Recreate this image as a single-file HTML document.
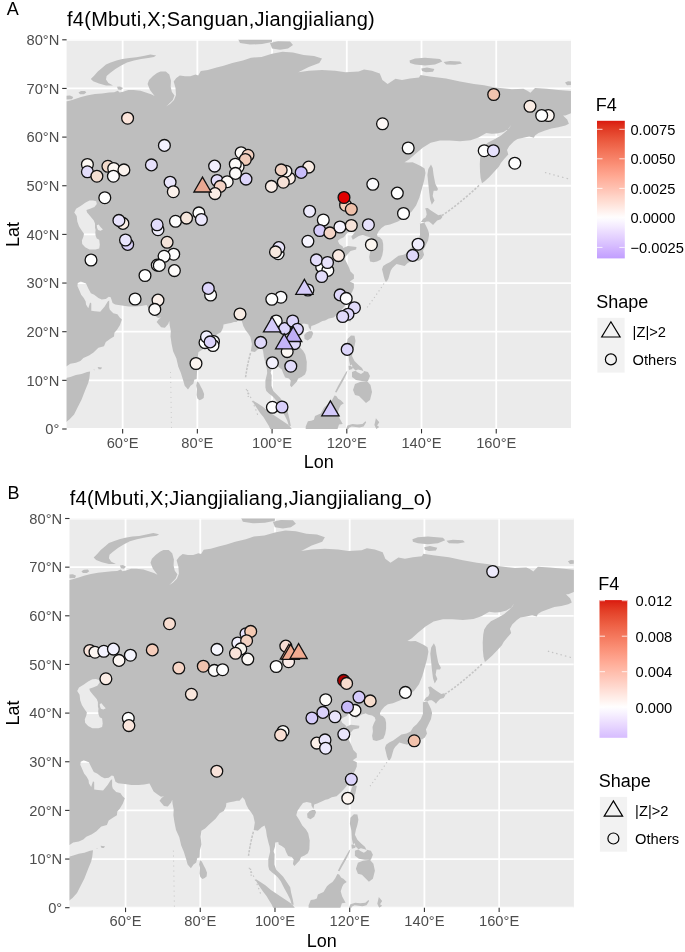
<!DOCTYPE html><html><head><meta charset="utf-8"><title>f4 maps</title><style>html,body{margin:0;padding:0;background:#fff;}svg{display:block;font-family:"Liberation Sans",Arial,Helvetica,sans-serif;}.tk{font-size:14.7px;fill:#4D4D4D;}.at{font-size:18px;fill:#000;}.tt{font-size:20px;fill:#000;letter-spacing:0.27px;}.lg{font-size:14.7px;fill:#000;}.lt{font-size:18px;fill:#000;}</style></head><body>
<svg width="685" height="952" viewBox="0 0 685 952">
<defs><clipPath id="clipA"><rect x="66.60" y="39.80" width="504.36" height="389.20"/></clipPath></defs>
<rect x="66.60" y="39.80" width="504.36" height="389.20" fill="#EBEBEB"/>
<g clip-path="url(#clipA)">
<line x1="122.64" y1="39.80" x2="122.64" y2="429.00" stroke="#fff" stroke-width="1.8"/>
<line x1="197.36" y1="39.80" x2="197.36" y2="429.00" stroke="#fff" stroke-width="1.8"/>
<line x1="272.08" y1="39.80" x2="272.08" y2="429.00" stroke="#fff" stroke-width="1.8"/>
<line x1="346.80" y1="39.80" x2="346.80" y2="429.00" stroke="#fff" stroke-width="1.8"/>
<line x1="421.52" y1="39.80" x2="421.52" y2="429.00" stroke="#fff" stroke-width="1.8"/>
<line x1="496.24" y1="39.80" x2="496.24" y2="429.00" stroke="#fff" stroke-width="1.8"/>
<line x1="66.60" y1="429.00" x2="570.96" y2="429.00" stroke="#fff" stroke-width="1.8"/>
<line x1="66.60" y1="380.35" x2="570.96" y2="380.35" stroke="#fff" stroke-width="1.8"/>
<line x1="66.60" y1="331.70" x2="570.96" y2="331.70" stroke="#fff" stroke-width="1.8"/>
<line x1="66.60" y1="283.05" x2="570.96" y2="283.05" stroke="#fff" stroke-width="1.8"/>
<line x1="66.60" y1="234.40" x2="570.96" y2="234.40" stroke="#fff" stroke-width="1.8"/>
<line x1="66.60" y1="185.75" x2="570.96" y2="185.75" stroke="#fff" stroke-width="1.8"/>
<line x1="66.60" y1="137.10" x2="570.96" y2="137.10" stroke="#fff" stroke-width="1.8"/>
<line x1="66.60" y1="88.45" x2="570.96" y2="88.45" stroke="#fff" stroke-width="1.8"/>
<line x1="66.60" y1="39.80" x2="570.96" y2="39.80" stroke="#fff" stroke-width="1.8"/>
<path transform="translate(66.60,39.80)" fill="#BEBEBE" fill-rule="evenodd" d="M-18.7,61.3 0.4,61.5 3.9,60.6 9.2,58.9 14.4,57.2 21.4,55.4 28.4,54.2 35.4,53.6 42.4,52.8 47.7,52.4 51.2,51.0 53.0,52.8 56.4,51.9 61.7,50.2 67.0,50.2 74.0,51.0 79.2,52.8 84.5,54.5 88.0,56.2 83.4,50.2 81.0,44.2 82.4,40.2 86.4,36.2 90.4,33.2 93.9,31.6 99.2,31.6 102.7,34.7 104.4,40.9 104.1,47.0 105.3,52.2 107.9,55.7 106.2,60.1 100.9,65.4 99.4,66.7 103.4,64.2 107.4,60.2 109.4,55.2 108.9,48.2 107.1,41.7 109.7,38.2 113.2,35.6 118.4,36.5 123.7,36.5 128.9,34.7 131.6,35.6 134.2,31.2 141.2,30.3 150.0,27.7 157.0,26.0 165.7,23.3 176.3,20.7 184.4,17.9 194.9,17.1 205.4,14.0 215.9,11.9 226.4,12.7 237.0,15.3 247.5,16.1 255.4,18.7 252.7,23.2 242.2,27.1 231.7,32.4 242.2,31.0 255.4,30.2 268.5,31.0 279.0,32.4 292.1,31.8 297.4,29.7 305.3,31.0 313.2,33.7 315.8,40.2 321.0,44.2 328.9,38.9 335.4,40.2 343.4,38.7 352.4,37.7 353.9,35.2 363.4,36.8 379.4,38.8 393.4,41.7 407.4,44.2 417.4,45.4 428.4,47.6 438.4,48.7 445.4,49.5 456.8,48.9 460.3,50.6 463.8,53.0 468.4,48.2 480.1,48.9 491.8,50.1 504.3,51.2 523.4,51.2 523.4,73.4 504.3,73.4 498.8,75.7 496.5,75.7 498.4,77.7 500.6,79.7 502.3,83.9 498.8,85.7 491.8,87.4 484.8,88.6 477.8,90.9 471.9,93.3 468.4,95.6 467.3,97.9 462.6,96.8 456.8,97.9 450.9,99.1 447.4,101.4 442.7,106.1 440.4,110.2 441.7,114.6 437.8,119.0 434.3,123.3 432.4,126.7 427.6,132.0 422.8,137.1 418.4,141.1 415.4,143.5 414.0,138.2 413.4,132.0 413.2,124.1 413.7,116.2 414.7,110.9 417.4,106.7 421.4,102.7 427.4,99.7 434.4,95.7 440.4,90.7 444.9,84.7 442.4,88.7 436.9,92.1 430.4,93.8 425.0,93.9 419.7,93.2 411.9,97.8 404.0,100.4 393.5,101.4 382.9,100.7 373.4,100.7 364.1,103.0 356.4,107.7 348.7,114.1 342.4,119.7 337.9,122.5 341.4,122.8 346.0,122.5 349.9,124.2 354.0,126.2 358.0,128.8 358.9,133.2 357.6,140.5 355.2,149.3 352.8,157.7 349.5,165.7 344.9,172.0 338.9,177.0 331.4,181.6 323.4,184.7 318.4,185.7 314.9,188.2 311.9,191.7 310.4,194.7 310.9,196.7 313.4,197.7 315.7,200.2 316.6,204.2 316.6,210.2 315.7,215.5 313.9,219.9 310.4,221.6 306.9,222.5 303.4,221.6 302.6,217.2 303.4,212.9 303.0,208.5 304.3,205.0 306.1,201.5 305.2,198.8 302.6,197.1 299.0,196.2 296.3,195.1 292.2,196.1 286.2,200.0 284.7,197.0 288.4,192.2 283.9,190.2 280.2,193.6 277.2,197.5 273.8,199.0 271.2,200.9 272.7,204.3 276.1,206.8 276.5,208.2 281.3,206.3 285.8,206.8 289.9,207.2 289.5,209.7 283.9,211.1 281.3,214.1 277.6,218.4 279.5,221.8 282.4,227.7 283.9,231.6 287.3,235.0 287.3,238.9 283.2,241.8 287.3,243.7 287.3,248.1 285.4,252.5 282.4,257.4 279.1,261.7 278.3,266.1 275.0,270.0 271.2,273.9 267.1,277.8 262.3,278.8 258.5,280.7 255.9,281.2 252.2,283.1 247.7,285.1 244.7,286.1 244.0,290.4 242.1,287.5 241.7,284.6 237.2,283.6 233.5,284.6 230.5,288.5 227.9,292.4 226.8,296.8 229.8,301.6 232.8,307.0 236.5,310.9 238.7,314.8 240.2,322.1 239.9,330.8 238.4,334.7 235.0,337.1 231.6,338.6 230.1,342.0 224.9,347.4 223.4,345.4 224.2,341.0 222.3,338.6 218.6,337.6 216.7,333.7 215.2,329.8 212.2,327.4 209.2,326.0 208.8,323.5 205.9,324.0 205.5,327.9 204.0,332.8 205.1,335.7 204.9,341.6 204.9,346.0 206.7,351.2 210.2,354.7 213.7,358.2 217.2,363.5 220.7,368.7 221.6,374.0 223.3,381.0 224.2,386.2 222.3,386.2 220.7,381.0 218.1,375.7 214.6,369.6 211.1,362.6 208.4,359.1 205.8,356.5 202.3,353.8 199.7,351.2 198.8,347.7 198.8,340.7 200.6,333.3 200.2,328.4 198.8,323.5 197.3,317.2 196.5,311.4 195.0,307.0 192.4,308.4 188.3,312.3 184.2,311.4 185.3,304.1 183.8,297.3 181.6,293.8 179.0,290.4 176.7,286.1 175.2,281.2 173.0,278.8 170.0,282.2 167.4,282.2 164.4,283.1 161.4,283.6 156.9,284.6 156.5,288.0 154.3,292.4 150.2,294.8 146.1,300.2 139.7,306.0 135.6,309.9 131.9,312.3 131.1,318.2 131.9,326.0 130.4,331.8 130.0,339.1 127.8,339.6 126.7,344.0 124.0,345.9 121.4,349.8 118.1,345.9 116.6,340.6 114.3,333.3 111.7,326.9 109.8,318.7 106.5,311.4 105.0,304.1 103.9,296.8 104.2,290.9 103.1,285.6 102.7,281.2 101.6,284.1 98.3,288.0 94.5,287.5 90.0,282.2 92.3,279.3 94.5,277.8 91.5,278.3 88.5,276.3 84.1,272.9 81.8,268.5 80.0,265.1 74.7,266.1 69.1,266.6 62.0,266.6 55.3,265.6 48.6,264.7 46.0,263.2 44.1,257.4 42.2,256.9 39.2,259.3 35.1,259.8 31.8,258.3 27.6,254.9 24.3,253.5 21.7,248.6 19.4,243.7 16.8,242.8 14.2,241.8 11.2,243.2 10.8,246.2 12.7,250.5 14.6,254.9 17.2,258.3 19.1,261.7 19.4,264.7 21.7,268.5 23.5,262.7 24.7,263.7 24.7,271.0 28.4,271.5 33.6,272.0 38.1,266.6 41.1,261.7 42.6,260.8 42.6,267.6 43.3,270.0 46.7,273.4 50.8,274.4 53.1,277.8 55.3,279.7 53.4,285.1 50.4,290.0 47.8,292.9 47.4,296.8 44.1,298.7 39.2,302.1 37.4,306.5 31.8,308.0 26.9,312.8 22.4,315.7 16.8,318.2 13.8,321.1 9.3,323.0 3.7,324.0 0.0,326.4 -3.7,327.9 -5.6,327.4 -6.7,333.3 -1.9,338.6 3.7,337.1 9.3,335.2 14.9,334.2 20.5,332.3 23.5,331.8 22.8,338.1 21.7,343.0 18.7,350.3 14.9,360.0 11.2,367.3 7.5,374.6 3.0,379.5 -1.9,383.4 -7.5,389.2 -11.2,394.1 -18.7,394.1 -18.7,61.3ZM7.7,172.6 9.5,169.0 14.4,165.9 18.6,162.9 22.9,160.8 26.4,160.6 29.6,161.4 30.2,164.1 27.8,167.2 23.5,169.0 19.8,170.2 20.5,172.6 23.5,176.3 27.2,180.6 28.4,183.6 28.4,187.9 29.0,190.3 28.7,192.7 29.0,195.8 30.2,198.8 32.6,200.0 33.2,204.9 32.6,208.6 29.0,209.8 22.9,209.8 18.6,207.4 15.6,204.3 15.3,200.7 16.8,197.0 17.4,194.0 15.6,191.5 12.5,186.7 10.7,181.8 10.1,176.3ZM30.2,185.4 32.0,184.8 33.9,187.3 36.3,189.7 33.9,190.9 31.4,190.3 30.5,187.9ZM89.6,15.8 83.8,14.6 76.8,16.1 69.8,17.5 62.8,18.1 55.8,19.3 49.9,20.8 44.1,22.8 39.4,24.6 34.8,28.6 31.2,31.6 27.7,35.6 24.2,39.1 26.6,41.5 32.4,43.8 39.4,45.6 46.4,45.6 41.8,43.2 39.4,39.7 40.0,36.2 43.5,33.3 48.8,29.2 54.6,25.7 60.4,22.8 67.4,20.8 74.5,19.3 81.5,18.1 87.3,17.3ZM50.4,47.0 53.4,46.6 56.4,48.2 54.4,50.2 51.4,49.7ZM11.9,52.7 14.4,51.2 18.4,51.1 19.7,52.7 17.4,54.4 13.4,54.5ZM-0.6,56.0 3.4,55.8 6.6,57.2 5.4,59.4 -0.6,59.7ZM171.4,-0.8 205.4,-0.8 205.4,2.2 195.4,4.2 183.4,4.8 173.4,3.2ZM203.4,3.2 211.4,1.4 223.4,1.7 226.4,5.2 221.4,8.7 213.4,10.0 205.4,8.7ZM342.9,20.7 348.4,18.7 358.4,17.9 373.4,19.2 375.7,21.7 368.4,24.7 358.4,25.8 348.4,24.7 343.4,23.2ZM377.0,22.2 383.4,21.3 393.4,21.7 395.4,23.7 388.4,25.0 379.4,24.7ZM354.7,28.7 360.4,27.6 367.8,29.2 366.4,32.0 359.4,32.4 355.4,31.2ZM498.4,42.7 501.4,41.4 504.4,41.7 504.4,45.2 500.4,45.5ZM364.4,124.7 361.7,129.1 360.8,135.2 361.7,144.0 362.6,152.8 363.5,159.8 365.2,165.0 367.9,160.6 366.1,156.3 367.0,151.0 370.5,151.0 371.4,149.3 368.7,144.0 367.0,135.2 366.1,128.2ZM358.6,168.4 361.2,168.1 363.6,170.1 367.1,172.5 371.8,175.4 374.7,174.8 375.8,177.1 374.1,179.5 370.6,180.6 367.7,183.6 366.5,185.3 364.8,183.6 362.4,181.8 360.1,181.8 357.2,183.0 354.2,183.6 353.1,184.2 354.2,182.4 356.6,178.9 358.9,177.7 360.1,174.8 359.5,171.3ZM354.4,182.2 357.4,182.2 359.5,186.3 361.5,190.4 362.6,194.5 361.5,200.6 358.5,206.8 356.4,210.9 357.5,214.9 355.4,219.0 352.3,221.1 349.3,220.6 345.2,221.1 341.1,223.1 338.0,226.2 333.9,225.2 329.9,224.1 327.8,226.2 325.8,228.2 324.2,230.7 323.0,234.7 321.8,239.0 320.2,241.8 318.7,241.6 317.4,237.7 316.4,233.4 315.4,229.4 316.6,226.2 319.6,224.1 323.7,222.1 327.8,219.0 331.9,216.0 337.0,214.9 341.1,212.9 343.7,208.8 347.2,205.7 351.3,200.6 353.4,195.5 353.4,190.4 353.4,186.3 353.4,183.3ZM283.9,266.1 287.3,267.6 285.8,274.9 283.6,282.2 280.9,279.3 280.6,274.9 282.1,270.0ZM245.5,291.4 246.6,293.8 244.7,298.2 241.0,300.7 238.0,299.2 237.6,295.3 240.2,292.4 242.8,291.4ZM280.9,299.2 284.4,295.7 287.9,296.0 288.9,301.2 287.9,306.2 286.4,311.2 285.4,316.2 287.9,321.2 291.9,325.2 295.4,328.2 297.4,332.2 294.4,334.2 290.4,332.2 286.4,328.2 283.4,325.2 282.4,320.2 281.9,312.2 280.4,305.2ZM281.9,326.2 285.4,324.7 285.9,329.2 282.4,330.2ZM285.4,332.2 291.4,329.7 297.4,331.2 301.4,332.2 303.4,336.2 301.4,341.2 295.4,341.2 289.4,340.2 285.4,337.2ZM288.4,344.2 293.4,342.2 300.4,341.2 303.9,345.2 305.4,352.2 303.4,360.2 299.4,363.2 295.4,359.2 292.4,356.2 288.4,355.2 286.4,350.2ZM268.4,352.2 271.4,346.2 275.4,339.2 279.4,332.2 280.9,330.7 279.9,334.2 276.4,341.2 272.4,348.2 269.9,352.7ZM239.1,394.1 239.1,386.8 241.3,381.4 244.7,380.9 247.3,380.0 248.4,376.1 254.0,373.6 257.4,367.8 260.0,365.4 263.0,363.4 265.6,360.0 267.9,355.6 269.7,356.1 271.6,359.0 274.2,360.5 277.2,363.4 274.2,365.4 272.7,368.3 271.2,372.7 272.7,378.0 276.1,384.3 272.4,384.8 270.9,389.2 270.5,394.1ZM186.5,360.8 190.9,363.5 196.2,367.0 201.4,371.4 206.7,374.9 211.9,378.4 217.2,381.9 222.4,385.4 225.9,390.2 226.0,396.5 204.0,396.5 204.0,390.2 202.3,386.2 199.7,381.9 197.0,377.5 193.5,373.1 190.0,367.9 186.5,362.6ZM278.7,394.1 279.5,389.2 280.9,385.8 285.8,384.3 290.7,384.8 295.9,384.3 298.9,381.4 299.6,382.4 297.0,386.8 292.9,387.7 285.1,386.8 282.1,388.2 282.1,394.1ZM309.3,378.5 312.7,382.4 310.5,385.8 312.7,387.3 309.7,389.2 307.8,385.3ZM130.4,341.5 132.3,343.0 134.5,347.4 136.0,350.3 137.5,354.2 137.1,358.1 135.2,359.5 133.0,360.5 130.8,358.6 130.0,355.1 130.4,349.3 129.6,345.9ZM31.0,327.2 35.5,327.7 34.4,329.4 32.1,329.4ZM26.9,329.6 28.0,329.8 27.6,330.6Z"/>
<path d="M442.0,215.5Q458.0,205.0 479.5,185.0" fill="none" stroke="#C4C4C4" stroke-width="1.6" stroke-dasharray="2.2,1.6"/>
<path d="M384.0,283.5Q375.0,297.0 366.0,309.0" fill="none" stroke="#C4C4C4" stroke-width="1.1" stroke-dasharray="1.2,2.8"/>
<path d="M545.0,172.5Q556.0,175.5 569.0,179.0" fill="none" stroke="#C4C4C4" stroke-width="1.2" stroke-dasharray="1.5,3"/>
<path d="M170.5,372.0Q171.0,395.0 171.5,428.0" fill="none" stroke="#C4C4C4" stroke-width="1.0" stroke-dasharray="1,4"/>
<path d="M250.5,353.0Q247.0,366.0 245.5,378.0" fill="none" stroke="#C4C4C4" stroke-width="1.5" stroke-dasharray="2.5,1.2"/>
<path d="M247.5,390.0Q248.0,393.0 248.3,397.0" fill="none" stroke="#C4C4C4" stroke-width="1.3" stroke-dasharray="1.5,1.5"/>
<path d="M246.0,389.0Q252.0,398.0 258.0,416.0" fill="none" stroke="#C4C4C4" stroke-width="1.1" stroke-dasharray="1.5,3"/>
<circle cx="87.4" cy="164.5" r="5.9" fill="#FDF9F3" stroke="#111" stroke-width="1.3"/>
<circle cx="87.4" cy="171.8" r="5.9" fill="#E3DDFA" stroke="#111" stroke-width="1.3"/>
<circle cx="96.9" cy="176.2" r="5.9" fill="#F3DED2" stroke="#111" stroke-width="1.3"/>
<circle cx="107.9" cy="166.3" r="5.9" fill="#F1D9CA" stroke="#111" stroke-width="1.3"/>
<circle cx="113.7" cy="168.5" r="5.9" fill="#FDF8F4" stroke="#111" stroke-width="1.3"/>
<circle cx="123.9" cy="169.9" r="5.9" fill="#FBF3EE" stroke="#111" stroke-width="1.3"/>
<circle cx="113.4" cy="176.2" r="5.9" fill="#FCFCFE" stroke="#111" stroke-width="1.3"/>
<circle cx="151.4" cy="164.9" r="5.9" fill="#E6E0FB" stroke="#111" stroke-width="1.3"/>
<circle cx="164.4" cy="145.4" r="5.9" fill="#F2F0FE" stroke="#111" stroke-width="1.3"/>
<circle cx="104.8" cy="197.7" r="5.9" fill="#FFFFFF" stroke="#111" stroke-width="1.3"/>
<circle cx="127.6" cy="118.2" r="5.9" fill="#FBE4DA" stroke="#111" stroke-width="1.3"/>
<circle cx="170.1" cy="182.2" r="5.9" fill="#EAE6FC" stroke="#111" stroke-width="1.3"/>
<circle cx="173.3" cy="191.7" r="5.9" fill="#FCF2EC" stroke="#111" stroke-width="1.3"/>
<circle cx="214.6" cy="166.1" r="5.9" fill="#F0EEFD" stroke="#111" stroke-width="1.3"/>
<circle cx="217.1" cy="180.5" r="5.9" fill="#E4DEFB" stroke="#111" stroke-width="1.3"/>
<circle cx="227.2" cy="181.7" r="5.9" fill="#FDF9F6" stroke="#111" stroke-width="1.3"/>
<circle cx="220.2" cy="186.4" r="5.9" fill="#F3D2C4" stroke="#111" stroke-width="1.3"/>
<circle cx="215.0" cy="193.6" r="5.9" fill="#FBEDE5" stroke="#111" stroke-width="1.3"/>
<path d="M202.5,177.1L211.1,192.0L193.9,192.0Z" fill="#E9A892" stroke="#111" stroke-width="1.3" stroke-linejoin="miter"/>
<circle cx="241.1" cy="152.7" r="5.9" fill="#FDFAF7" stroke="#111" stroke-width="1.3"/>
<circle cx="248.0" cy="155.3" r="5.9" fill="#F2D0C0" stroke="#111" stroke-width="1.3"/>
<circle cx="245.3" cy="159.5" r="5.9" fill="#F0CBB9" stroke="#111" stroke-width="1.3"/>
<circle cx="238.1" cy="166.8" r="5.9" fill="#FDF9F6" stroke="#111" stroke-width="1.3"/>
<circle cx="235.3" cy="164.2" r="5.9" fill="#FDFBF9" stroke="#111" stroke-width="1.3"/>
<circle cx="235.5" cy="173.4" r="5.9" fill="#FCFAF8" stroke="#111" stroke-width="1.3"/>
<circle cx="246.0" cy="179.1" r="5.9" fill="#DDD5FB" stroke="#111" stroke-width="1.3"/>
<circle cx="289.4" cy="178.2" r="5.9" fill="#FAEDE6" stroke="#111" stroke-width="1.3"/>
<circle cx="285.9" cy="171.2" r="5.9" fill="#FDF7F3" stroke="#111" stroke-width="1.3"/>
<circle cx="281.2" cy="169.9" r="5.9" fill="#F2D3C4" stroke="#111" stroke-width="1.3"/>
<circle cx="283.3" cy="182.2" r="5.9" fill="#F6E1D7" stroke="#111" stroke-width="1.3"/>
<circle cx="271.4" cy="186.4" r="5.9" fill="#FBEEE8" stroke="#111" stroke-width="1.3"/>
<circle cx="308.7" cy="167.1" r="5.9" fill="#FAEDE4" stroke="#111" stroke-width="1.3"/>
<circle cx="301.2" cy="172.4" r="5.9" fill="#C9BDFA" stroke="#111" stroke-width="1.3"/>
<circle cx="345.6" cy="205.2" r="5.9" fill="#F2CDB8" stroke="#111" stroke-width="1.3"/>
<circle cx="344.0" cy="197.5" r="5.9" fill="#E00000" stroke="#111" stroke-width="1.3"/>
<circle cx="351.3" cy="209.3" r="5.9" fill="#EEC0AA" stroke="#111" stroke-width="1.3"/>
<circle cx="372.8" cy="184.3" r="5.9" fill="#FBFBFE" stroke="#111" stroke-width="1.3"/>
<circle cx="397.3" cy="193.1" r="5.9" fill="#FEFEFE" stroke="#111" stroke-width="1.3"/>
<circle cx="403.5" cy="213.5" r="5.9" fill="#FEFEFE" stroke="#111" stroke-width="1.3"/>
<circle cx="309.6" cy="211.2" r="5.9" fill="#EEEBFD" stroke="#111" stroke-width="1.3"/>
<circle cx="323.3" cy="220.0" r="5.9" fill="#FEFEFE" stroke="#111" stroke-width="1.3"/>
<circle cx="319.8" cy="230.5" r="5.9" fill="#D6CCFA" stroke="#111" stroke-width="1.3"/>
<circle cx="329.9" cy="232.9" r="5.9" fill="#F3D4C6" stroke="#111" stroke-width="1.3"/>
<circle cx="339.9" cy="227.0" r="5.9" fill="#F5F3FE" stroke="#111" stroke-width="1.3"/>
<circle cx="351.3" cy="225.5" r="5.9" fill="#F6E3DA" stroke="#111" stroke-width="1.3"/>
<circle cx="368.4" cy="224.7" r="5.9" fill="#E6E1FC" stroke="#111" stroke-width="1.3"/>
<circle cx="307.9" cy="241.3" r="5.9" fill="#F7F5FE" stroke="#111" stroke-width="1.3"/>
<circle cx="371.4" cy="244.7" r="5.9" fill="#FCF6F0" stroke="#111" stroke-width="1.3"/>
<circle cx="338.5" cy="255.6" r="5.9" fill="#F9EAE3" stroke="#111" stroke-width="1.3"/>
<circle cx="418.1" cy="244.2" r="5.9" fill="#EFEDFD" stroke="#111" stroke-width="1.3"/>
<circle cx="412.7" cy="255.4" r="5.9" fill="#DFD8FB" stroke="#111" stroke-width="1.3"/>
<circle cx="122.9" cy="223.4" r="5.9" fill="#FAEEE6" stroke="#111" stroke-width="1.3"/>
<circle cx="118.9" cy="220.4" r="5.9" fill="#E8E3FC" stroke="#111" stroke-width="1.3"/>
<circle cx="127.7" cy="244.4" r="5.9" fill="#DAD2FA" stroke="#111" stroke-width="1.3"/>
<circle cx="125.5" cy="240.0" r="5.9" fill="#E9E5FC" stroke="#111" stroke-width="1.3"/>
<circle cx="91.0" cy="260.0" r="5.9" fill="#FFFFFF" stroke="#111" stroke-width="1.3"/>
<circle cx="158.0" cy="229.7" r="5.9" fill="#F0EEFD" stroke="#111" stroke-width="1.3"/>
<circle cx="157.1" cy="224.8" r="5.9" fill="#E2DCFB" stroke="#111" stroke-width="1.3"/>
<circle cx="175.5" cy="221.3" r="5.9" fill="#FEFEFE" stroke="#111" stroke-width="1.3"/>
<circle cx="186.5" cy="218.1" r="5.9" fill="#F5E6DC" stroke="#111" stroke-width="1.3"/>
<circle cx="198.9" cy="212.9" r="5.9" fill="#FEFEFE" stroke="#111" stroke-width="1.3"/>
<circle cx="201.4" cy="219.5" r="5.9" fill="#ECE8FD" stroke="#111" stroke-width="1.3"/>
<circle cx="167.1" cy="242.3" r="5.9" fill="#F5E4DA" stroke="#111" stroke-width="1.3"/>
<circle cx="173.7" cy="254.2" r="5.9" fill="#FEFEFE" stroke="#111" stroke-width="1.3"/>
<circle cx="164.1" cy="256.3" r="5.9" fill="#FDFDFD" stroke="#111" stroke-width="1.3"/>
<circle cx="157.3" cy="265.1" r="5.9" fill="#FFFFFF" stroke="#111" stroke-width="1.3"/>
<circle cx="159.3" cy="265.4" r="5.9" fill="#FEFEFE" stroke="#111" stroke-width="1.3"/>
<circle cx="174.4" cy="270.6" r="5.9" fill="#FEFCFB" stroke="#111" stroke-width="1.3"/>
<circle cx="145.0" cy="275.5" r="5.9" fill="#FEFEFE" stroke="#111" stroke-width="1.3"/>
<circle cx="135.1" cy="299.0" r="5.9" fill="#FEFEFE" stroke="#111" stroke-width="1.3"/>
<circle cx="158.0" cy="300.1" r="5.9" fill="#FBF0EA" stroke="#111" stroke-width="1.3"/>
<circle cx="154.8" cy="309.4" r="5.9" fill="#FDFBFA" stroke="#111" stroke-width="1.3"/>
<circle cx="210.6" cy="295.0" r="5.9" fill="#FEFEFE" stroke="#111" stroke-width="1.3"/>
<circle cx="208.3" cy="288.4" r="5.9" fill="#DDD5FB" stroke="#111" stroke-width="1.3"/>
<circle cx="240.0" cy="314.0" r="5.9" fill="#F8ECE4" stroke="#111" stroke-width="1.3"/>
<circle cx="205.0" cy="342.6" r="5.9" fill="#FEFEFE" stroke="#111" stroke-width="1.3"/>
<circle cx="213.5" cy="341.5" r="5.9" fill="#FEFEFE" stroke="#111" stroke-width="1.3"/>
<circle cx="213.0" cy="345.5" r="5.9" fill="#FEFEFE" stroke="#111" stroke-width="1.3"/>
<circle cx="206.5" cy="336.8" r="5.9" fill="#F0EEFD" stroke="#111" stroke-width="1.3"/>
<circle cx="210.1" cy="341.9" r="5.9" fill="#DCD4FB" stroke="#111" stroke-width="1.3"/>
<circle cx="196.0" cy="363.5" r="5.9" fill="#FCF5F1" stroke="#111" stroke-width="1.3"/>
<circle cx="278.1" cy="253.7" r="5.9" fill="#FEFEFE" stroke="#111" stroke-width="1.3"/>
<circle cx="278.8" cy="247.6" r="5.9" fill="#E9E5FC" stroke="#111" stroke-width="1.3"/>
<circle cx="275.5" cy="251.9" r="5.9" fill="#F8EAE0" stroke="#111" stroke-width="1.3"/>
<circle cx="321.7" cy="266.9" r="5.9" fill="#FEFEFE" stroke="#111" stroke-width="1.3"/>
<circle cx="327.8" cy="270.4" r="5.9" fill="#FEFEFE" stroke="#111" stroke-width="1.3"/>
<circle cx="316.4" cy="259.9" r="5.9" fill="#E4DEFB" stroke="#111" stroke-width="1.3"/>
<circle cx="327.5" cy="262.5" r="5.9" fill="#E8E3FC" stroke="#111" stroke-width="1.3"/>
<circle cx="321.7" cy="276.5" r="5.9" fill="#E3DDFB" stroke="#111" stroke-width="1.3"/>
<circle cx="307.9" cy="290.0" r="5.9" fill="#EDEBFD" stroke="#111" stroke-width="1.3"/>
<path d="M304.4,279.4L313.0,294.3L295.8,294.3Z" fill="#D6CCFA" stroke="#111" stroke-width="1.3" stroke-linejoin="miter"/>
<circle cx="280.9" cy="297.2" r="5.9" fill="#FCFCFE" stroke="#111" stroke-width="1.3"/>
<circle cx="271.8" cy="299.3" r="5.9" fill="#FEFEFE" stroke="#111" stroke-width="1.3"/>
<circle cx="340.1" cy="294.9" r="5.9" fill="#DFD8FB" stroke="#111" stroke-width="1.3"/>
<circle cx="346.2" cy="298.4" r="5.9" fill="#FDFDFE" stroke="#111" stroke-width="1.3"/>
<circle cx="354.4" cy="307.7" r="5.9" fill="#E2DCFB" stroke="#111" stroke-width="1.3"/>
<circle cx="348.0" cy="314.2" r="5.9" fill="#DDD6FB" stroke="#111" stroke-width="1.3"/>
<circle cx="342.7" cy="316.5" r="5.9" fill="#E0D9FB" stroke="#111" stroke-width="1.3"/>
<circle cx="276.2" cy="321.0" r="5.9" fill="#FEFEFE" stroke="#111" stroke-width="1.3"/>
<circle cx="284.6" cy="328.6" r="5.9" fill="#DCD4FB" stroke="#111" stroke-width="1.3"/>
<path d="M272.1,317.0L280.7,331.9L263.5,331.9Z" fill="#D5CBFA" stroke="#111" stroke-width="1.3" stroke-linejoin="miter"/>
<circle cx="292.7" cy="321.0" r="5.9" fill="#DDD5FB" stroke="#111" stroke-width="1.3"/>
<circle cx="297.4" cy="329.3" r="5.9" fill="#DAD1FB" stroke="#111" stroke-width="1.3"/>
<circle cx="294.5" cy="343.6" r="5.9" fill="#E0D9FB" stroke="#111" stroke-width="1.3"/>
<path d="M293.2,326.6L301.8,341.5L284.6,341.5Z" fill="#BFAEF7" stroke="#111" stroke-width="1.3" stroke-linejoin="miter"/>
<circle cx="287.2" cy="351.6" r="5.9" fill="#FCF8F4" stroke="#111" stroke-width="1.3"/>
<path d="M284.2,333.9L292.8,348.8L275.6,348.8Z" fill="#C4B5F8" stroke="#111" stroke-width="1.3" stroke-linejoin="miter"/>
<circle cx="260.7" cy="342.4" r="5.9" fill="#E0D9FB" stroke="#111" stroke-width="1.3"/>
<circle cx="272.4" cy="362.7" r="5.9" fill="#F4F2FE" stroke="#111" stroke-width="1.3"/>
<circle cx="290.8" cy="366.2" r="5.9" fill="#E2DCFB" stroke="#111" stroke-width="1.3"/>
<circle cx="347.2" cy="349.4" r="5.9" fill="#DDD6FB" stroke="#111" stroke-width="1.3"/>
<circle cx="272.4" cy="407.3" r="5.9" fill="#FEFEFE" stroke="#111" stroke-width="1.3"/>
<circle cx="282.0" cy="407.0" r="5.9" fill="#D8CFFA" stroke="#111" stroke-width="1.3"/>
<path d="M330.4,400.9L339.1,415.8L321.8,415.8Z" fill="#D3C9FA" stroke="#111" stroke-width="1.3" stroke-linejoin="miter"/>
<circle cx="493.7" cy="94.5" r="5.9" fill="#F1C4AE" stroke="#111" stroke-width="1.3"/>
<circle cx="530.0" cy="106.3" r="5.9" fill="#FAECE4" stroke="#111" stroke-width="1.3"/>
<circle cx="548.3" cy="115.5" r="5.9" fill="#FCF6F2" stroke="#111" stroke-width="1.3"/>
<circle cx="541.7" cy="115.5" r="5.9" fill="#FEFEFE" stroke="#111" stroke-width="1.3"/>
<circle cx="382.5" cy="123.8" r="5.9" fill="#FDF8F6" stroke="#111" stroke-width="1.3"/>
<circle cx="408.2" cy="148.0" r="5.9" fill="#FEFEFE" stroke="#111" stroke-width="1.3"/>
<circle cx="484.2" cy="150.7" r="5.9" fill="#FEFEFE" stroke="#111" stroke-width="1.3"/>
<circle cx="493.4" cy="150.7" r="5.9" fill="#E6E1FC" stroke="#111" stroke-width="1.3"/>
<circle cx="514.8" cy="163.2" r="5.9" fill="#FEFEFE" stroke="#111" stroke-width="1.3"/>
</g>
<line x1="62.20" y1="429.00" x2="66.60" y2="429.00" stroke="#333" stroke-width="1.1"/>
<text class="tk" x="59.30" y="434.30" text-anchor="end">0°</text>
<line x1="62.20" y1="380.35" x2="66.60" y2="380.35" stroke="#333" stroke-width="1.1"/>
<text class="tk" x="59.30" y="385.65" text-anchor="end">10°N</text>
<line x1="62.20" y1="331.70" x2="66.60" y2="331.70" stroke="#333" stroke-width="1.1"/>
<text class="tk" x="59.30" y="337.00" text-anchor="end">20°N</text>
<line x1="62.20" y1="283.05" x2="66.60" y2="283.05" stroke="#333" stroke-width="1.1"/>
<text class="tk" x="59.30" y="288.35" text-anchor="end">30°N</text>
<line x1="62.20" y1="234.40" x2="66.60" y2="234.40" stroke="#333" stroke-width="1.1"/>
<text class="tk" x="59.30" y="239.70" text-anchor="end">40°N</text>
<line x1="62.20" y1="185.75" x2="66.60" y2="185.75" stroke="#333" stroke-width="1.1"/>
<text class="tk" x="59.30" y="191.05" text-anchor="end">50°N</text>
<line x1="62.20" y1="137.10" x2="66.60" y2="137.10" stroke="#333" stroke-width="1.1"/>
<text class="tk" x="59.30" y="142.40" text-anchor="end">60°N</text>
<line x1="62.20" y1="88.45" x2="66.60" y2="88.45" stroke="#333" stroke-width="1.1"/>
<text class="tk" x="59.30" y="93.75" text-anchor="end">70°N</text>
<line x1="62.20" y1="39.80" x2="66.60" y2="39.80" stroke="#333" stroke-width="1.1"/>
<text class="tk" x="59.30" y="45.10" text-anchor="end">80°N</text>
<line x1="122.64" y1="429.00" x2="122.64" y2="433.40" stroke="#333" stroke-width="1.1"/>
<text class="tk" x="122.64" y="447.70" text-anchor="middle">60°E</text>
<line x1="197.36" y1="429.00" x2="197.36" y2="433.40" stroke="#333" stroke-width="1.1"/>
<text class="tk" x="197.36" y="447.70" text-anchor="middle">80°E</text>
<line x1="272.08" y1="429.00" x2="272.08" y2="433.40" stroke="#333" stroke-width="1.1"/>
<text class="tk" x="272.08" y="447.70" text-anchor="middle">100°E</text>
<line x1="346.80" y1="429.00" x2="346.80" y2="433.40" stroke="#333" stroke-width="1.1"/>
<text class="tk" x="346.80" y="447.70" text-anchor="middle">120°E</text>
<line x1="421.52" y1="429.00" x2="421.52" y2="433.40" stroke="#333" stroke-width="1.1"/>
<text class="tk" x="421.52" y="447.70" text-anchor="middle">140°E</text>
<line x1="496.24" y1="429.00" x2="496.24" y2="433.40" stroke="#333" stroke-width="1.1"/>
<text class="tk" x="496.24" y="447.70" text-anchor="middle">160°E</text>
<text class="at" x="318.78" y="468.20" text-anchor="middle">Lon</text>
<text class="at" transform="translate(19.1,234.40) rotate(-90)" x="0" y="0" text-anchor="middle">Lat</text>
<text class="tt" x="67.0" y="26.3">f4(Mbuti,X;Sanguan,Jiangjialiang)</text>
<text class="at" x="6.8" y="14.7">A</text>
<defs><linearGradient id="gA" x1="0" y1="0" x2="0" y2="1"><stop offset="0.000" stop-color="#DA180E"/><stop offset="0.025" stop-color="#DD2918"/><stop offset="0.050" stop-color="#E03620"/><stop offset="0.075" stop-color="#E34029"/><stop offset="0.100" stop-color="#E64A31"/><stop offset="0.125" stop-color="#E95339"/><stop offset="0.150" stop-color="#EC5C41"/><stop offset="0.175" stop-color="#EE6449"/><stop offset="0.200" stop-color="#F16C51"/><stop offset="0.225" stop-color="#F37459"/><stop offset="0.250" stop-color="#F57B61"/><stop offset="0.275" stop-color="#F78369"/><stop offset="0.300" stop-color="#F98A71"/><stop offset="0.325" stop-color="#FB9279"/><stop offset="0.350" stop-color="#FC9982"/><stop offset="0.375" stop-color="#FEA08A"/><stop offset="0.400" stop-color="#FFA892"/><stop offset="0.425" stop-color="#FFAF9B"/><stop offset="0.450" stop-color="#FFB6A4"/><stop offset="0.475" stop-color="#FFBDAC"/><stop offset="0.500" stop-color="#FFC4B5"/><stop offset="0.525" stop-color="#FFCBBE"/><stop offset="0.550" stop-color="#FFD3C7"/><stop offset="0.575" stop-color="#FFDACF"/><stop offset="0.600" stop-color="#FFE1D8"/><stop offset="0.625" stop-color="#FFE8E1"/><stop offset="0.650" stop-color="#FFEFEB"/><stop offset="0.675" stop-color="#FFF6F4"/><stop offset="0.700" stop-color="#FFFDFD"/><stop offset="0.725" stop-color="#FBF8FF"/><stop offset="0.750" stop-color="#F7F0FF"/><stop offset="0.775" stop-color="#F2E8FF"/><stop offset="0.800" stop-color="#EDDFFF"/><stop offset="0.825" stop-color="#E8D7FF"/><stop offset="0.850" stop-color="#E3CFFF"/><stop offset="0.875" stop-color="#DDC7FF"/><stop offset="0.900" stop-color="#D8BFFF"/><stop offset="0.925" stop-color="#D3B6FF"/><stop offset="0.950" stop-color="#CDAEFF"/><stop offset="0.975" stop-color="#C7A6FF"/><stop offset="1.000" stop-color="#C19EFF"/></linearGradient></defs>
<text class="lt" x="595.7" y="110.8">F4</text>
<rect x="597.0" y="120.8" width="27.8" height="137.6" fill="url(#gA)"/>
<line x1="597.0" y1="129.3" x2="602.5" y2="129.3" stroke="#fff" stroke-opacity="0.8" stroke-width="1"/>
<line x1="619.3" y1="129.3" x2="624.8" y2="129.3" stroke="#fff" stroke-opacity="0.8" stroke-width="1"/>
<text class="lg" x="630.4" y="134.6">0.0075</text>
<line x1="597.0" y1="158.8" x2="602.5" y2="158.8" stroke="#fff" stroke-opacity="0.8" stroke-width="1"/>
<line x1="619.3" y1="158.8" x2="624.8" y2="158.8" stroke="#fff" stroke-opacity="0.8" stroke-width="1"/>
<text class="lg" x="630.4" y="164.1">0.0050</text>
<line x1="597.0" y1="188.4" x2="602.5" y2="188.4" stroke="#fff" stroke-opacity="0.8" stroke-width="1"/>
<line x1="619.3" y1="188.4" x2="624.8" y2="188.4" stroke="#fff" stroke-opacity="0.8" stroke-width="1"/>
<text class="lg" x="630.4" y="193.7">0.0025</text>
<line x1="597.0" y1="217.9" x2="602.5" y2="217.9" stroke="#fff" stroke-opacity="0.8" stroke-width="1"/>
<line x1="619.3" y1="217.9" x2="624.8" y2="217.9" stroke="#fff" stroke-opacity="0.8" stroke-width="1"/>
<text class="lg" x="630.4" y="223.2">0.0000</text>
<line x1="597.0" y1="247.4" x2="602.5" y2="247.4" stroke="#fff" stroke-opacity="0.8" stroke-width="1"/>
<line x1="619.3" y1="247.4" x2="624.8" y2="247.4" stroke="#fff" stroke-opacity="0.8" stroke-width="1"/>
<text class="lg" x="630.4" y="252.7">−0.0025</text>
<text class="lt" x="596.2" y="307.6">Shape</text>
<rect x="597.4" y="317.8" width="27.2" height="54.8" fill="#F2F2F2"/>
<path d="M610.9,321.8L620.1,337.0L601.7,337.0Z" fill="none" stroke="#000" stroke-width="1.2"/>
<circle cx="610.9" cy="359.4" r="5.5" fill="none" stroke="#000" stroke-width="1.2"/>
<text class="lg" x="632.6" y="337.3">|Z|&gt;2</text>
<text class="lg" x="632.6" y="364.6">Others</text>
<defs><clipPath id="clipB"><rect x="69.50" y="518.50" width="504.36" height="389.20"/></clipPath></defs>
<rect x="69.50" y="518.50" width="504.36" height="389.20" fill="#EBEBEB"/>
<g clip-path="url(#clipB)">
<line x1="125.54" y1="518.50" x2="125.54" y2="907.70" stroke="#fff" stroke-width="1.8"/>
<line x1="200.26" y1="518.50" x2="200.26" y2="907.70" stroke="#fff" stroke-width="1.8"/>
<line x1="274.98" y1="518.50" x2="274.98" y2="907.70" stroke="#fff" stroke-width="1.8"/>
<line x1="349.70" y1="518.50" x2="349.70" y2="907.70" stroke="#fff" stroke-width="1.8"/>
<line x1="424.42" y1="518.50" x2="424.42" y2="907.70" stroke="#fff" stroke-width="1.8"/>
<line x1="499.14" y1="518.50" x2="499.14" y2="907.70" stroke="#fff" stroke-width="1.8"/>
<line x1="69.50" y1="907.70" x2="573.86" y2="907.70" stroke="#fff" stroke-width="1.8"/>
<line x1="69.50" y1="859.05" x2="573.86" y2="859.05" stroke="#fff" stroke-width="1.8"/>
<line x1="69.50" y1="810.40" x2="573.86" y2="810.40" stroke="#fff" stroke-width="1.8"/>
<line x1="69.50" y1="761.75" x2="573.86" y2="761.75" stroke="#fff" stroke-width="1.8"/>
<line x1="69.50" y1="713.10" x2="573.86" y2="713.10" stroke="#fff" stroke-width="1.8"/>
<line x1="69.50" y1="664.45" x2="573.86" y2="664.45" stroke="#fff" stroke-width="1.8"/>
<line x1="69.50" y1="615.80" x2="573.86" y2="615.80" stroke="#fff" stroke-width="1.8"/>
<line x1="69.50" y1="567.15" x2="573.86" y2="567.15" stroke="#fff" stroke-width="1.8"/>
<line x1="69.50" y1="518.50" x2="573.86" y2="518.50" stroke="#fff" stroke-width="1.8"/>
<path transform="translate(69.50,518.50)" fill="#BEBEBE" fill-rule="evenodd" d="M-18.7,61.3 0.4,61.5 3.9,60.6 9.2,58.9 14.4,57.2 21.4,55.4 28.4,54.2 35.4,53.6 42.4,52.8 47.7,52.4 51.2,51.0 53.0,52.8 56.4,51.9 61.7,50.2 67.0,50.2 74.0,51.0 79.2,52.8 84.5,54.5 88.0,56.2 83.4,50.2 81.0,44.2 82.4,40.2 86.4,36.2 90.4,33.2 93.9,31.6 99.2,31.6 102.7,34.7 104.4,40.9 104.1,47.0 105.3,52.2 107.9,55.7 106.2,60.1 100.9,65.4 99.4,66.7 103.4,64.2 107.4,60.2 109.4,55.2 108.9,48.2 107.1,41.7 109.7,38.2 113.2,35.6 118.4,36.5 123.7,36.5 128.9,34.7 131.6,35.6 134.2,31.2 141.2,30.3 150.0,27.7 157.0,26.0 165.7,23.3 176.3,20.7 184.4,17.9 194.9,17.1 205.4,14.0 215.9,11.9 226.4,12.7 237.0,15.3 247.5,16.1 255.4,18.7 252.7,23.2 242.2,27.1 231.7,32.4 242.2,31.0 255.4,30.2 268.5,31.0 279.0,32.4 292.1,31.8 297.4,29.7 305.3,31.0 313.2,33.7 315.8,40.2 321.0,44.2 328.9,38.9 335.4,40.2 343.4,38.7 352.4,37.7 353.9,35.2 363.4,36.8 379.4,38.8 393.4,41.7 407.4,44.2 417.4,45.4 428.4,47.6 438.4,48.7 445.4,49.5 456.8,48.9 460.3,50.6 463.8,53.0 468.4,48.2 480.1,48.9 491.8,50.1 504.3,51.2 523.4,51.2 523.4,73.4 504.3,73.4 498.8,75.7 496.5,75.7 498.4,77.7 500.6,79.7 502.3,83.9 498.8,85.7 491.8,87.4 484.8,88.6 477.8,90.9 471.9,93.3 468.4,95.6 467.3,97.9 462.6,96.8 456.8,97.9 450.9,99.1 447.4,101.4 442.7,106.1 440.4,110.2 441.7,114.6 437.8,119.0 434.3,123.3 432.4,126.7 427.6,132.0 422.8,137.1 418.4,141.1 415.4,143.5 414.0,138.2 413.4,132.0 413.2,124.1 413.7,116.2 414.7,110.9 417.4,106.7 421.4,102.7 427.4,99.7 434.4,95.7 440.4,90.7 444.9,84.7 442.4,88.7 436.9,92.1 430.4,93.8 425.0,93.9 419.7,93.2 411.9,97.8 404.0,100.4 393.5,101.4 382.9,100.7 373.4,100.7 364.1,103.0 356.4,107.7 348.7,114.1 342.4,119.7 337.9,122.5 341.4,122.8 346.0,122.5 349.9,124.2 354.0,126.2 358.0,128.8 358.9,133.2 357.6,140.5 355.2,149.3 352.8,157.7 349.5,165.7 344.9,172.0 338.9,177.0 331.4,181.6 323.4,184.7 318.4,185.7 314.9,188.2 311.9,191.7 310.4,194.7 310.9,196.7 313.4,197.7 315.7,200.2 316.6,204.2 316.6,210.2 315.7,215.5 313.9,219.9 310.4,221.6 306.9,222.5 303.4,221.6 302.6,217.2 303.4,212.9 303.0,208.5 304.3,205.0 306.1,201.5 305.2,198.8 302.6,197.1 299.0,196.2 296.3,195.1 292.2,196.1 286.2,200.0 284.7,197.0 288.4,192.2 283.9,190.2 280.2,193.6 277.2,197.5 273.8,199.0 271.2,200.9 272.7,204.3 276.1,206.8 276.5,208.2 281.3,206.3 285.8,206.8 289.9,207.2 289.5,209.7 283.9,211.1 281.3,214.1 277.6,218.4 279.5,221.8 282.4,227.7 283.9,231.6 287.3,235.0 287.3,238.9 283.2,241.8 287.3,243.7 287.3,248.1 285.4,252.5 282.4,257.4 279.1,261.7 278.3,266.1 275.0,270.0 271.2,273.9 267.1,277.8 262.3,278.8 258.5,280.7 255.9,281.2 252.2,283.1 247.7,285.1 244.7,286.1 244.0,290.4 242.1,287.5 241.7,284.6 237.2,283.6 233.5,284.6 230.5,288.5 227.9,292.4 226.8,296.8 229.8,301.6 232.8,307.0 236.5,310.9 238.7,314.8 240.2,322.1 239.9,330.8 238.4,334.7 235.0,337.1 231.6,338.6 230.1,342.0 224.9,347.4 223.4,345.4 224.2,341.0 222.3,338.6 218.6,337.6 216.7,333.7 215.2,329.8 212.2,327.4 209.2,326.0 208.8,323.5 205.9,324.0 205.5,327.9 204.0,332.8 205.1,335.7 204.9,341.6 204.9,346.0 206.7,351.2 210.2,354.7 213.7,358.2 217.2,363.5 220.7,368.7 221.6,374.0 223.3,381.0 224.2,386.2 222.3,386.2 220.7,381.0 218.1,375.7 214.6,369.6 211.1,362.6 208.4,359.1 205.8,356.5 202.3,353.8 199.7,351.2 198.8,347.7 198.8,340.7 200.6,333.3 200.2,328.4 198.8,323.5 197.3,317.2 196.5,311.4 195.0,307.0 192.4,308.4 188.3,312.3 184.2,311.4 185.3,304.1 183.8,297.3 181.6,293.8 179.0,290.4 176.7,286.1 175.2,281.2 173.0,278.8 170.0,282.2 167.4,282.2 164.4,283.1 161.4,283.6 156.9,284.6 156.5,288.0 154.3,292.4 150.2,294.8 146.1,300.2 139.7,306.0 135.6,309.9 131.9,312.3 131.1,318.2 131.9,326.0 130.4,331.8 130.0,339.1 127.8,339.6 126.7,344.0 124.0,345.9 121.4,349.8 118.1,345.9 116.6,340.6 114.3,333.3 111.7,326.9 109.8,318.7 106.5,311.4 105.0,304.1 103.9,296.8 104.2,290.9 103.1,285.6 102.7,281.2 101.6,284.1 98.3,288.0 94.5,287.5 90.0,282.2 92.3,279.3 94.5,277.8 91.5,278.3 88.5,276.3 84.1,272.9 81.8,268.5 80.0,265.1 74.7,266.1 69.1,266.6 62.0,266.6 55.3,265.6 48.6,264.7 46.0,263.2 44.1,257.4 42.2,256.9 39.2,259.3 35.1,259.8 31.8,258.3 27.6,254.9 24.3,253.5 21.7,248.6 19.4,243.7 16.8,242.8 14.2,241.8 11.2,243.2 10.8,246.2 12.7,250.5 14.6,254.9 17.2,258.3 19.1,261.7 19.4,264.7 21.7,268.5 23.5,262.7 24.7,263.7 24.7,271.0 28.4,271.5 33.6,272.0 38.1,266.6 41.1,261.7 42.6,260.8 42.6,267.6 43.3,270.0 46.7,273.4 50.8,274.4 53.1,277.8 55.3,279.7 53.4,285.1 50.4,290.0 47.8,292.9 47.4,296.8 44.1,298.7 39.2,302.1 37.4,306.5 31.8,308.0 26.9,312.8 22.4,315.7 16.8,318.2 13.8,321.1 9.3,323.0 3.7,324.0 0.0,326.4 -3.7,327.9 -5.6,327.4 -6.7,333.3 -1.9,338.6 3.7,337.1 9.3,335.2 14.9,334.2 20.5,332.3 23.5,331.8 22.8,338.1 21.7,343.0 18.7,350.3 14.9,360.0 11.2,367.3 7.5,374.6 3.0,379.5 -1.9,383.4 -7.5,389.2 -11.2,394.1 -18.7,394.1 -18.7,61.3ZM7.7,172.6 9.5,169.0 14.4,165.9 18.6,162.9 22.9,160.8 26.4,160.6 29.6,161.4 30.2,164.1 27.8,167.2 23.5,169.0 19.8,170.2 20.5,172.6 23.5,176.3 27.2,180.6 28.4,183.6 28.4,187.9 29.0,190.3 28.7,192.7 29.0,195.8 30.2,198.8 32.6,200.0 33.2,204.9 32.6,208.6 29.0,209.8 22.9,209.8 18.6,207.4 15.6,204.3 15.3,200.7 16.8,197.0 17.4,194.0 15.6,191.5 12.5,186.7 10.7,181.8 10.1,176.3ZM30.2,185.4 32.0,184.8 33.9,187.3 36.3,189.7 33.9,190.9 31.4,190.3 30.5,187.9ZM89.6,15.8 83.8,14.6 76.8,16.1 69.8,17.5 62.8,18.1 55.8,19.3 49.9,20.8 44.1,22.8 39.4,24.6 34.8,28.6 31.2,31.6 27.7,35.6 24.2,39.1 26.6,41.5 32.4,43.8 39.4,45.6 46.4,45.6 41.8,43.2 39.4,39.7 40.0,36.2 43.5,33.3 48.8,29.2 54.6,25.7 60.4,22.8 67.4,20.8 74.5,19.3 81.5,18.1 87.3,17.3ZM50.4,47.0 53.4,46.6 56.4,48.2 54.4,50.2 51.4,49.7ZM11.9,52.7 14.4,51.2 18.4,51.1 19.7,52.7 17.4,54.4 13.4,54.5ZM-0.6,56.0 3.4,55.8 6.6,57.2 5.4,59.4 -0.6,59.7ZM171.4,-0.8 205.4,-0.8 205.4,2.2 195.4,4.2 183.4,4.8 173.4,3.2ZM203.4,3.2 211.4,1.4 223.4,1.7 226.4,5.2 221.4,8.7 213.4,10.0 205.4,8.7ZM342.9,20.7 348.4,18.7 358.4,17.9 373.4,19.2 375.7,21.7 368.4,24.7 358.4,25.8 348.4,24.7 343.4,23.2ZM377.0,22.2 383.4,21.3 393.4,21.7 395.4,23.7 388.4,25.0 379.4,24.7ZM354.7,28.7 360.4,27.6 367.8,29.2 366.4,32.0 359.4,32.4 355.4,31.2ZM498.4,42.7 501.4,41.4 504.4,41.7 504.4,45.2 500.4,45.5ZM364.4,124.7 361.7,129.1 360.8,135.2 361.7,144.0 362.6,152.8 363.5,159.8 365.2,165.0 367.9,160.6 366.1,156.3 367.0,151.0 370.5,151.0 371.4,149.3 368.7,144.0 367.0,135.2 366.1,128.2ZM358.6,168.4 361.2,168.1 363.6,170.1 367.1,172.5 371.8,175.4 374.7,174.8 375.8,177.1 374.1,179.5 370.6,180.6 367.7,183.6 366.5,185.3 364.8,183.6 362.4,181.8 360.1,181.8 357.2,183.0 354.2,183.6 353.1,184.2 354.2,182.4 356.6,178.9 358.9,177.7 360.1,174.8 359.5,171.3ZM354.4,182.2 357.4,182.2 359.5,186.3 361.5,190.4 362.6,194.5 361.5,200.6 358.5,206.8 356.4,210.9 357.5,214.9 355.4,219.0 352.3,221.1 349.3,220.6 345.2,221.1 341.1,223.1 338.0,226.2 333.9,225.2 329.9,224.1 327.8,226.2 325.8,228.2 324.2,230.7 323.0,234.7 321.8,239.0 320.2,241.8 318.7,241.6 317.4,237.7 316.4,233.4 315.4,229.4 316.6,226.2 319.6,224.1 323.7,222.1 327.8,219.0 331.9,216.0 337.0,214.9 341.1,212.9 343.7,208.8 347.2,205.7 351.3,200.6 353.4,195.5 353.4,190.4 353.4,186.3 353.4,183.3ZM283.9,266.1 287.3,267.6 285.8,274.9 283.6,282.2 280.9,279.3 280.6,274.9 282.1,270.0ZM245.5,291.4 246.6,293.8 244.7,298.2 241.0,300.7 238.0,299.2 237.6,295.3 240.2,292.4 242.8,291.4ZM280.9,299.2 284.4,295.7 287.9,296.0 288.9,301.2 287.9,306.2 286.4,311.2 285.4,316.2 287.9,321.2 291.9,325.2 295.4,328.2 297.4,332.2 294.4,334.2 290.4,332.2 286.4,328.2 283.4,325.2 282.4,320.2 281.9,312.2 280.4,305.2ZM281.9,326.2 285.4,324.7 285.9,329.2 282.4,330.2ZM285.4,332.2 291.4,329.7 297.4,331.2 301.4,332.2 303.4,336.2 301.4,341.2 295.4,341.2 289.4,340.2 285.4,337.2ZM288.4,344.2 293.4,342.2 300.4,341.2 303.9,345.2 305.4,352.2 303.4,360.2 299.4,363.2 295.4,359.2 292.4,356.2 288.4,355.2 286.4,350.2ZM268.4,352.2 271.4,346.2 275.4,339.2 279.4,332.2 280.9,330.7 279.9,334.2 276.4,341.2 272.4,348.2 269.9,352.7ZM239.1,394.1 239.1,386.8 241.3,381.4 244.7,380.9 247.3,380.0 248.4,376.1 254.0,373.6 257.4,367.8 260.0,365.4 263.0,363.4 265.6,360.0 267.9,355.6 269.7,356.1 271.6,359.0 274.2,360.5 277.2,363.4 274.2,365.4 272.7,368.3 271.2,372.7 272.7,378.0 276.1,384.3 272.4,384.8 270.9,389.2 270.5,394.1ZM186.5,360.8 190.9,363.5 196.2,367.0 201.4,371.4 206.7,374.9 211.9,378.4 217.2,381.9 222.4,385.4 225.9,390.2 226.0,396.5 204.0,396.5 204.0,390.2 202.3,386.2 199.7,381.9 197.0,377.5 193.5,373.1 190.0,367.9 186.5,362.6ZM278.7,394.1 279.5,389.2 280.9,385.8 285.8,384.3 290.7,384.8 295.9,384.3 298.9,381.4 299.6,382.4 297.0,386.8 292.9,387.7 285.1,386.8 282.1,388.2 282.1,394.1ZM309.3,378.5 312.7,382.4 310.5,385.8 312.7,387.3 309.7,389.2 307.8,385.3ZM130.4,341.5 132.3,343.0 134.5,347.4 136.0,350.3 137.5,354.2 137.1,358.1 135.2,359.5 133.0,360.5 130.8,358.6 130.0,355.1 130.4,349.3 129.6,345.9ZM31.0,327.2 35.5,327.7 34.4,329.4 32.1,329.4ZM26.9,329.6 28.0,329.8 27.6,330.6Z"/>
<path d="M444.9,694.2Q460.9,683.7 482.4,663.7" fill="none" stroke="#C4C4C4" stroke-width="1.6" stroke-dasharray="2.2,1.6"/>
<path d="M386.9,762.2Q377.9,775.7 368.9,787.7" fill="none" stroke="#C4C4C4" stroke-width="1.1" stroke-dasharray="1.2,2.8"/>
<path d="M547.9,651.2Q558.9,654.2 571.9,657.7" fill="none" stroke="#C4C4C4" stroke-width="1.2" stroke-dasharray="1.5,3"/>
<path d="M173.4,850.7Q173.9,873.7 174.4,906.7" fill="none" stroke="#C4C4C4" stroke-width="1.0" stroke-dasharray="1,4"/>
<path d="M253.4,831.7Q249.9,844.7 248.4,856.7" fill="none" stroke="#C4C4C4" stroke-width="1.5" stroke-dasharray="2.5,1.2"/>
<path d="M250.4,868.7Q250.9,871.7 251.2,875.7" fill="none" stroke="#C4C4C4" stroke-width="1.3" stroke-dasharray="1.5,1.5"/>
<path d="M248.9,867.7Q254.9,876.7 260.9,894.7" fill="none" stroke="#C4C4C4" stroke-width="1.1" stroke-dasharray="1.5,3"/>
<circle cx="89.8" cy="650.5" r="5.9" fill="#F9E4DB" stroke="#111" stroke-width="1.3"/>
<circle cx="95.0" cy="652.2" r="5.9" fill="#FCF6F2" stroke="#111" stroke-width="1.3"/>
<circle cx="103.8" cy="651.3" r="5.9" fill="#F3F2FE" stroke="#111" stroke-width="1.3"/>
<circle cx="113.4" cy="649.1" r="5.9" fill="#F2F1FE" stroke="#111" stroke-width="1.3"/>
<circle cx="119.0" cy="660.4" r="5.9" fill="#FDF7F4" stroke="#111" stroke-width="1.3"/>
<circle cx="130.4" cy="655.2" r="5.9" fill="#F5F5FE" stroke="#111" stroke-width="1.3"/>
<circle cx="105.9" cy="678.8" r="5.9" fill="#FBEDE6" stroke="#111" stroke-width="1.3"/>
<circle cx="169.5" cy="623.7" r="5.9" fill="#F8DDD0" stroke="#111" stroke-width="1.3"/>
<circle cx="152.3" cy="649.9" r="5.9" fill="#F5CDBB" stroke="#111" stroke-width="1.3"/>
<circle cx="178.8" cy="668.0" r="5.9" fill="#F6D5C6" stroke="#111" stroke-width="1.3"/>
<circle cx="191.4" cy="694.3" r="5.9" fill="#FAE7DD" stroke="#111" stroke-width="1.3"/>
<circle cx="203.3" cy="666.2" r="5.9" fill="#F0C3AE" stroke="#111" stroke-width="1.3"/>
<circle cx="214.3" cy="670.4" r="5.9" fill="#FCFBFA" stroke="#111" stroke-width="1.3"/>
<circle cx="222.6" cy="669.7" r="5.9" fill="#FDFDFE" stroke="#111" stroke-width="1.3"/>
<circle cx="217.0" cy="649.4" r="5.9" fill="#F7F7FE" stroke="#111" stroke-width="1.3"/>
<circle cx="246.0" cy="633.7" r="5.9" fill="#E6E2FC" stroke="#111" stroke-width="1.3"/>
<circle cx="250.7" cy="631.4" r="5.9" fill="#F4C9B2" stroke="#111" stroke-width="1.3"/>
<circle cx="237.8" cy="643.0" r="5.9" fill="#F3F1FE" stroke="#111" stroke-width="1.3"/>
<circle cx="246.6" cy="640.7" r="5.9" fill="#F2D1C1" stroke="#111" stroke-width="1.3"/>
<circle cx="240.8" cy="648.9" r="5.9" fill="#F8F3EC" stroke="#111" stroke-width="1.3"/>
<circle cx="235.5" cy="653.3" r="5.9" fill="#F9E3D9" stroke="#111" stroke-width="1.3"/>
<circle cx="247.8" cy="659.1" r="5.9" fill="#FDF9F6" stroke="#111" stroke-width="1.3"/>
<circle cx="276.2" cy="666.5" r="5.9" fill="#FEFEFE" stroke="#111" stroke-width="1.3"/>
<circle cx="285.8" cy="646.1" r="5.9" fill="#F7DCD3" stroke="#111" stroke-width="1.3"/>
<circle cx="288.6" cy="661.7" r="5.9" fill="#FBEDEA" stroke="#111" stroke-width="1.3"/>
<path d="M288.9,644.2L297.5,659.1L280.3,659.1Z" fill="#EFAA90" stroke="#111" stroke-width="1.3" stroke-linejoin="miter"/>
<path d="M290.7,644.4L299.3,659.3L282.1,659.3Z" fill="#EFAA90" stroke="#111" stroke-width="1.3" stroke-linejoin="miter"/>
<path d="M298.6,643.6L307.2,658.5L290.0,658.5Z" fill="#EFAA90" stroke="#111" stroke-width="1.3" stroke-linejoin="miter"/>
<circle cx="343.6" cy="680.4" r="5.9" fill="#B00000" stroke="#111" stroke-width="1.3"/>
<circle cx="346.6" cy="683.4" r="5.9" fill="#F7DCCE" stroke="#111" stroke-width="1.3"/>
<circle cx="325.7" cy="699.7" r="5.9" fill="#FEFCFA" stroke="#111" stroke-width="1.3"/>
<circle cx="359.0" cy="697.1" r="5.9" fill="#D4CAFA" stroke="#111" stroke-width="1.3"/>
<circle cx="370.2" cy="700.9" r="5.9" fill="#F6DCCC" stroke="#111" stroke-width="1.3"/>
<circle cx="355.0" cy="710.4" r="5.9" fill="#FEFBF8" stroke="#111" stroke-width="1.3"/>
<circle cx="347.5" cy="707.0" r="5.9" fill="#C8BAF9" stroke="#111" stroke-width="1.3"/>
<circle cx="322.9" cy="712.4" r="5.9" fill="#DAD1FB" stroke="#111" stroke-width="1.3"/>
<circle cx="311.9" cy="718.0" r="5.9" fill="#D6CCFA" stroke="#111" stroke-width="1.3"/>
<circle cx="335.0" cy="716.8" r="5.9" fill="#E9E5FC" stroke="#111" stroke-width="1.3"/>
<circle cx="343.8" cy="734.3" r="5.9" fill="#E9E5FC" stroke="#111" stroke-width="1.3"/>
<circle cx="316.8" cy="743.1" r="5.9" fill="#FBF0EA" stroke="#111" stroke-width="1.3"/>
<circle cx="325.0" cy="739.9" r="5.9" fill="#EAE6FC" stroke="#111" stroke-width="1.3"/>
<circle cx="325.6" cy="748.2" r="5.9" fill="#ECE9FD" stroke="#111" stroke-width="1.3"/>
<circle cx="351.3" cy="779.3" r="5.9" fill="#DCD4FB" stroke="#111" stroke-width="1.3"/>
<circle cx="347.8" cy="798.2" r="5.9" fill="#FCF5F0" stroke="#111" stroke-width="1.3"/>
<circle cx="405.4" cy="692.4" r="5.9" fill="#FEFEFE" stroke="#111" stroke-width="1.3"/>
<circle cx="414.2" cy="740.8" r="5.9" fill="#F2C2AC" stroke="#111" stroke-width="1.3"/>
<circle cx="492.7" cy="571.5" r="5.9" fill="#EEEBFD" stroke="#111" stroke-width="1.3"/>
<circle cx="283.0" cy="731.5" r="5.9" fill="#FCFCFA" stroke="#111" stroke-width="1.3"/>
<circle cx="280.6" cy="735.0" r="5.9" fill="#F9DED2" stroke="#111" stroke-width="1.3"/>
<circle cx="128.3" cy="718.3" r="5.9" fill="#FEFEFE" stroke="#111" stroke-width="1.3"/>
<circle cx="128.9" cy="725.6" r="5.9" fill="#FAE6DD" stroke="#111" stroke-width="1.3"/>
<circle cx="216.8" cy="771.2" r="5.9" fill="#F9E3DA" stroke="#111" stroke-width="1.3"/>
</g>
<line x1="65.10" y1="907.70" x2="69.50" y2="907.70" stroke="#333" stroke-width="1.1"/>
<text class="tk" x="62.20" y="913.00" text-anchor="end">0°</text>
<line x1="65.10" y1="859.05" x2="69.50" y2="859.05" stroke="#333" stroke-width="1.1"/>
<text class="tk" x="62.20" y="864.35" text-anchor="end">10°N</text>
<line x1="65.10" y1="810.40" x2="69.50" y2="810.40" stroke="#333" stroke-width="1.1"/>
<text class="tk" x="62.20" y="815.70" text-anchor="end">20°N</text>
<line x1="65.10" y1="761.75" x2="69.50" y2="761.75" stroke="#333" stroke-width="1.1"/>
<text class="tk" x="62.20" y="767.05" text-anchor="end">30°N</text>
<line x1="65.10" y1="713.10" x2="69.50" y2="713.10" stroke="#333" stroke-width="1.1"/>
<text class="tk" x="62.20" y="718.40" text-anchor="end">40°N</text>
<line x1="65.10" y1="664.45" x2="69.50" y2="664.45" stroke="#333" stroke-width="1.1"/>
<text class="tk" x="62.20" y="669.75" text-anchor="end">50°N</text>
<line x1="65.10" y1="615.80" x2="69.50" y2="615.80" stroke="#333" stroke-width="1.1"/>
<text class="tk" x="62.20" y="621.10" text-anchor="end">60°N</text>
<line x1="65.10" y1="567.15" x2="69.50" y2="567.15" stroke="#333" stroke-width="1.1"/>
<text class="tk" x="62.20" y="572.45" text-anchor="end">70°N</text>
<line x1="65.10" y1="518.50" x2="69.50" y2="518.50" stroke="#333" stroke-width="1.1"/>
<text class="tk" x="62.20" y="523.80" text-anchor="end">80°N</text>
<line x1="125.54" y1="907.70" x2="125.54" y2="912.10" stroke="#333" stroke-width="1.1"/>
<text class="tk" x="125.54" y="926.40" text-anchor="middle">60°E</text>
<line x1="200.26" y1="907.70" x2="200.26" y2="912.10" stroke="#333" stroke-width="1.1"/>
<text class="tk" x="200.26" y="926.40" text-anchor="middle">80°E</text>
<line x1="274.98" y1="907.70" x2="274.98" y2="912.10" stroke="#333" stroke-width="1.1"/>
<text class="tk" x="274.98" y="926.40" text-anchor="middle">100°E</text>
<line x1="349.70" y1="907.70" x2="349.70" y2="912.10" stroke="#333" stroke-width="1.1"/>
<text class="tk" x="349.70" y="926.40" text-anchor="middle">120°E</text>
<line x1="424.42" y1="907.70" x2="424.42" y2="912.10" stroke="#333" stroke-width="1.1"/>
<text class="tk" x="424.42" y="926.40" text-anchor="middle">140°E</text>
<line x1="499.14" y1="907.70" x2="499.14" y2="912.10" stroke="#333" stroke-width="1.1"/>
<text class="tk" x="499.14" y="926.40" text-anchor="middle">160°E</text>
<text class="at" x="321.68" y="946.90" text-anchor="middle">Lon</text>
<text class="at" transform="translate(19.1,713.10) rotate(-90)" x="0" y="0" text-anchor="middle">Lat</text>
<text class="tt" x="69.7" y="505.3">f4(Mbuti,X;Jiangjialiang,Jiangjialiang_o)</text>
<text class="at" x="7.5" y="498.6">B</text>
<defs><linearGradient id="gB" x1="0" y1="0" x2="0" y2="1"><stop offset="0.000" stop-color="#DA180E"/><stop offset="0.025" stop-color="#DD2817"/><stop offset="0.050" stop-color="#E0331F"/><stop offset="0.075" stop-color="#E33E26"/><stop offset="0.100" stop-color="#E5472E"/><stop offset="0.125" stop-color="#E84F35"/><stop offset="0.150" stop-color="#EA573C"/><stop offset="0.175" stop-color="#ED5F43"/><stop offset="0.200" stop-color="#EF664B"/><stop offset="0.225" stop-color="#F16D52"/><stop offset="0.250" stop-color="#F37459"/><stop offset="0.275" stop-color="#F57B60"/><stop offset="0.300" stop-color="#F78268"/><stop offset="0.325" stop-color="#F9896F"/><stop offset="0.350" stop-color="#FA9077"/><stop offset="0.375" stop-color="#FC967E"/><stop offset="0.400" stop-color="#FD9D86"/><stop offset="0.425" stop-color="#FEA38E"/><stop offset="0.450" stop-color="#FFAA95"/><stop offset="0.475" stop-color="#FFB19D"/><stop offset="0.500" stop-color="#FFB7A5"/><stop offset="0.525" stop-color="#FFBEAD"/><stop offset="0.550" stop-color="#FFC4B5"/><stop offset="0.575" stop-color="#FFCABD"/><stop offset="0.600" stop-color="#FFD1C5"/><stop offset="0.625" stop-color="#FFD7CD"/><stop offset="0.650" stop-color="#FFDED5"/><stop offset="0.675" stop-color="#FFE4DD"/><stop offset="0.700" stop-color="#FFEBE5"/><stop offset="0.725" stop-color="#FFF1ED"/><stop offset="0.750" stop-color="#FFF8F6"/><stop offset="0.775" stop-color="#FFFEFE"/><stop offset="0.800" stop-color="#FBF8FF"/><stop offset="0.825" stop-color="#F7F1FF"/><stop offset="0.850" stop-color="#F3E9FF"/><stop offset="0.875" stop-color="#EEE2FF"/><stop offset="0.900" stop-color="#EADAFF"/><stop offset="0.925" stop-color="#E5D3FF"/><stop offset="0.950" stop-color="#E0CBFF"/><stop offset="0.975" stop-color="#DBC4FF"/><stop offset="1.000" stop-color="#D7BCFF"/></linearGradient></defs>
<text class="lt" x="598.2" y="590.1">F4</text>
<rect x="599.5" y="600.1" width="27.8" height="137.7" fill="url(#gB)"/>
<line x1="599.5" y1="600.7" x2="605.0" y2="600.7" stroke="#fff" stroke-opacity="0.8" stroke-width="1"/>
<line x1="621.8" y1="600.7" x2="627.3" y2="600.7" stroke="#fff" stroke-opacity="0.8" stroke-width="1"/>
<text class="lg" x="635.5" y="606.0">0.012</text>
<line x1="599.5" y1="636.2" x2="605.0" y2="636.2" stroke="#fff" stroke-opacity="0.8" stroke-width="1"/>
<line x1="621.8" y1="636.2" x2="627.3" y2="636.2" stroke="#fff" stroke-opacity="0.8" stroke-width="1"/>
<text class="lg" x="635.5" y="641.5">0.008</text>
<line x1="599.5" y1="671.7" x2="605.0" y2="671.7" stroke="#fff" stroke-opacity="0.8" stroke-width="1"/>
<line x1="621.8" y1="671.7" x2="627.3" y2="671.7" stroke="#fff" stroke-opacity="0.8" stroke-width="1"/>
<text class="lg" x="635.5" y="677.0">0.004</text>
<line x1="599.5" y1="707.2" x2="605.0" y2="707.2" stroke="#fff" stroke-opacity="0.8" stroke-width="1"/>
<line x1="621.8" y1="707.2" x2="627.3" y2="707.2" stroke="#fff" stroke-opacity="0.8" stroke-width="1"/>
<text class="lg" x="635.5" y="712.5">0.000</text>
<text class="lt" x="598.7" y="786.7">Shape</text>
<rect x="599.9" y="796.9" width="27.2" height="54.8" fill="#F2F2F2"/>
<path d="M613.4,800.9L622.6,816.1L604.2,816.1Z" fill="none" stroke="#000" stroke-width="1.2"/>
<circle cx="613.4" cy="838.5" r="5.5" fill="none" stroke="#000" stroke-width="1.2"/>
<text class="lg" x="635.1" y="816.4">|Z|&gt;2</text>
<text class="lg" x="635.1" y="843.7">Others</text>
</svg></body></html>
